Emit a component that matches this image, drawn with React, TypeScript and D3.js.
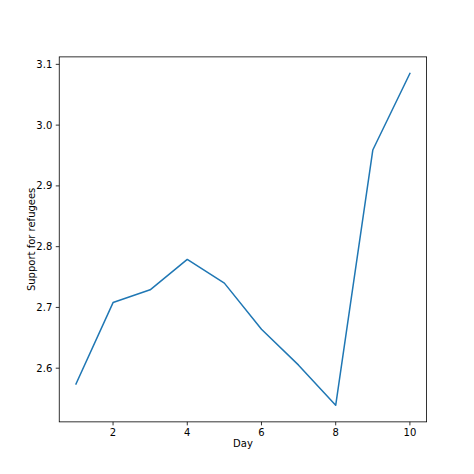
import React from "react";
import * as d3 from "d3";

const days = [1, 2, 3, 4, 5, 6, 7, 8, 9, 10];
const support = [2.574, 2.708, 2.729, 2.779, 2.74, 2.664, 2.605, 2.539, 2.959, 3.085];
const xTicks = [2, 4, 6, 8, 10];
const yTicks = [2.6, 2.7, 2.8, 2.9, 3.0, 3.1];

const W = 474;
const H = 474;
const left = W * 0.125;
const right = W * 0.9;
const top = H * 0.12;
const bottom = H * 0.89;

export default function App() {
  const xMin = d3.min(days)!, xMax = d3.max(days)!;
  const yMin = d3.min(support)!, yMax = d3.max(support)!;
  const xPad = (xMax - xMin) * 0.05;
  const yPad = (yMax - yMin) * 0.05;
  const x = d3.scaleLinear().domain([xMin - xPad, xMax + xPad]).range([left, right]);
  const y = d3.scaleLinear().domain([yMin - yPad, yMax + yPad]).range([bottom, top]);
  const line = d3
    .line<number>()
    .x((_, i) => x(days[i]))
    .y((d) => y(d));
  const font = "DejaVu Sans, sans-serif";
  return (
    <svg
      width={W}
      height={H}
      style={{ position: "absolute", left: 0, top: 0, background: "#fff" }}
      fontFamily={font}
    >
      <rect x={0} y={0} width={W} height={H} fill="#fff" />
      <path d={line(support) ?? ""} fill="none" stroke="#1f77b4" strokeWidth={1.5} strokeLinejoin="round" strokeLinecap="square" />
      <rect x={left} y={top} width={right - left} height={bottom - top} fill="none" stroke="#000" strokeWidth={0.8} />
      {xTicks.map((t) => (
        <g key={"x" + t}>
          <line x1={x(t)} x2={x(t)} y1={bottom} y2={bottom + 3.5} stroke="#000" strokeWidth={0.8} />
          <text x={x(t)} y={bottom + 14.5} fontSize={10} textAnchor="middle" fill="#000">
            {t}
          </text>
        </g>
      ))}
      {yTicks.map((t) => (
        <g key={"y" + t}>
          <line x1={left - 3.5} x2={left} y1={y(t)} y2={y(t)} stroke="#000" strokeWidth={0.8} />
          <text x={left - 7} y={y(t)} dy="0.36em" fontSize={10} textAnchor="end" fill="#000">
            {t.toFixed(1)}
          </text>
        </g>
      ))}
      <text x={(left + right) / 2} y={bottom + 25} fontSize={10} textAnchor="middle" fill="#000">
        Day
      </text>
      <text
        transform={`translate(${left - 24},${(top + bottom) / 2}) rotate(-90)`}
        fontSize={10}
        textAnchor="middle"
        fill="#000"
      >
        Support for refugees
      </text>
    </svg>
  );
}
